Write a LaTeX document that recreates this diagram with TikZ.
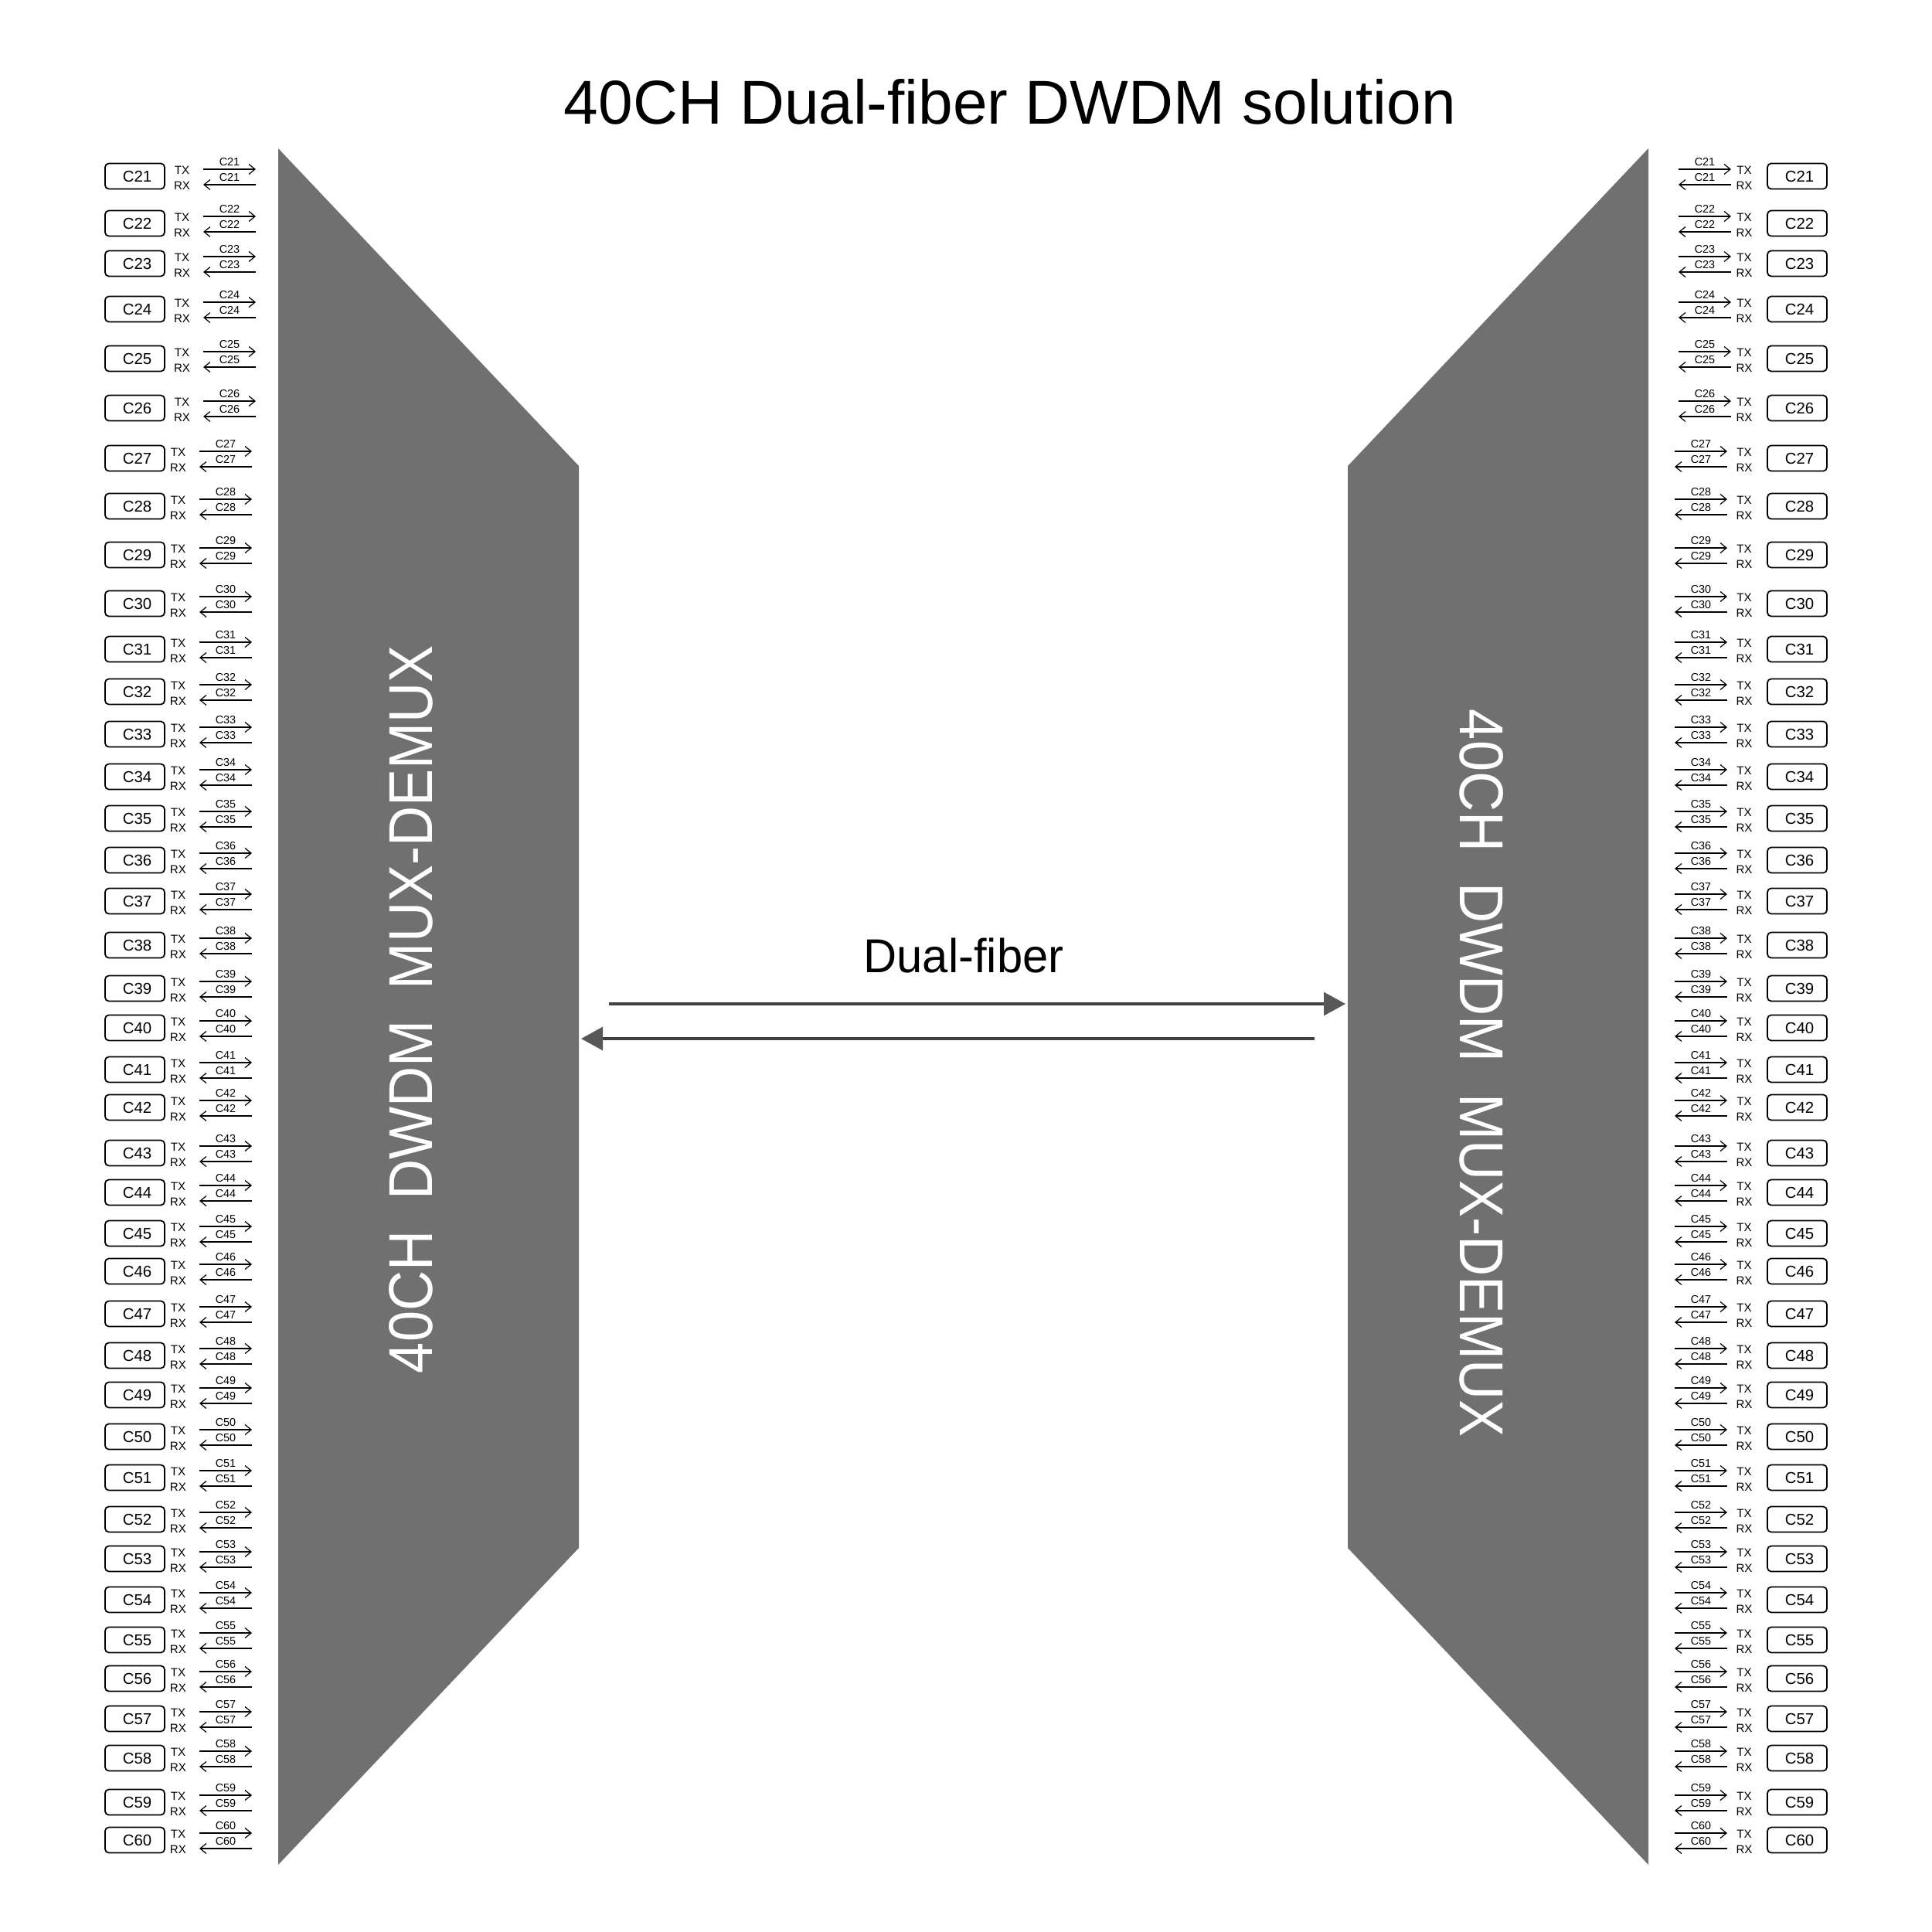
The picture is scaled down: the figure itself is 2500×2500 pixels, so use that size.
\documentclass[tikz,border=0pt]{standalone}
\usepackage{fontspec}
\setmainfont{Liberation Sans}
\usetikzlibrary{arrows.meta}
\definecolor{muxgray}{RGB}{112,112,112}
\definecolor{fibergray}{RGB}{64,64,64}
\definecolor{tipgray}{RGB}{88,88,88}

\begin{document}
\begin{tikzpicture}[
    x=0.01cm, y=-0.01cm,
    mux/.style={fill=muxgray, draw=none},
    muxlbl/.style={text=white, inner sep=0pt, font=\fontsize{22.8}{24}\selectfont},
    title/.style={inner sep=0pt, anchor=base, font=\fontsize{22.8}{24}\selectfont},
    chbox/.style={draw, rounded corners=1.4pt, line width=0.5pt, inner sep=0pt,
                  minimum width=0.77cm, minimum height=0.33cm, font=\fontsize{5.8}{6}\selectfont},
    trx/.style={inner sep=0pt, font=\fontsize{4.3}{5}\selectfont},
    chlbl/.style={inner sep=0pt, anchor=base, yshift=1.4pt, font=\fontsize{4.1}{4.5}\selectfont},
    charr/.style={-{Straight Barb[length=0.8mm, width=1.3mm]}, line width=0.35pt},
    fiber/.style={-{Triangle[length=2.8mm, width=3mm, color=tipgray]}, line width=0.9pt, draw=fibergray}
]
% page
\fill[white] (0,0) rectangle (2500,2500);

% title
\node[title] (ttl) at (1307,161) {40CH Dual-fiber DWDM solution};

% the two mux-demux units
\coordinate (lmA) at (360,192);
\coordinate (lmB) at (749,603);
\coordinate (lmC) at (749,2003);
\coordinate (lmD) at (360,2413);
\fill[mux] (lmA) -- (lmB) -- (lmC) -- (lmD) -- cycle;
\coordinate (rmA) at (2133,192);
\coordinate (rmB) at (1744,603);
\coordinate (rmC) at (1744,2003);
\coordinate (rmD) at (2133,2413);
\fill[mux] (rmA) -- (rmB) -- (rmC) -- (rmD) -- cycle;
\node[muxlbl, rotate=90] (lmux) at (532,1306) {\scalebox{0.9}[1]{40CH\ \ DWDM\ \ MUX-DEMUX}};
\node[muxlbl, rotate=-90] (rmux) at (1917,1389) {\scalebox{0.9}[1]{40CH\ \ DWDM\ \ MUX-DEMUX}};

% fiber pair between the units
\node[title, font=\fontsize{17.5}{19}\selectfont] (dual) at (1247,1258) {\scalebox{0.97}[1]{Dual-fiber}};
\coordinate (ftxA) at (788,1299);
\coordinate (ftxB) at (1741,1299);
\coordinate (frxA) at (1701,1344);
\coordinate (frxB) at (752,1344);
\draw[fiber] (ftxA) -- (ftxB);
\draw[fiber] (frxA) -- (frxB);

% channels C21..C60 on both sides
\foreach \n/\y in {21/228, 22/289, 23/341, 24/400, 25/464, 26/528, 27/593, 28/655,
                   29/718, 30/781, 31/840, 32/895, 33/950, 34/1005, 35/1059, 36/1113,
                   37/1166, 38/1223, 39/1279, 40/1330, 41/1384, 42/1433, 43/1492, 44/1543,
                   45/1596, 46/1645, 47/1700, 48/1754, 49/1805, 50/1859, 51/1912, 52/1966,
                   53/2017, 54/2070, 55/2122, 56/2172, 57/2224, 58/2275, 59/2332, 60/2381}{
  \pgfmathsetmacro{\dx}{\n<27 ? 0 : -5}
  % left terminal
  \node[chbox] (lb\n) at (174.5,\y) {\hspace{0.06cm}C\n};
  \node[trx] (ltx\n) at (235.5+\dx,\y-7.5) {TX};
  \node[trx] (lrx\n) at (235.5+\dx,\y+12) {RX};
  \coordinate (lta\n) at (263+\dx,\y-9);
  \coordinate (ltb\n) at (331+\dx,\y-9);
  \coordinate (lra\n) at (331+\dx,\y+11);
  \coordinate (lrb\n) at (263+\dx,\y+11);
  \draw[charr] (lta\n) -- (ltb\n) node[chlbl, midway] {C\n};
  \draw[charr] (lra\n) -- (lrb\n) node[chlbl, midway] {C\n};
  % right terminal
  \node[chbox] (rb\n) at (2325.5,\y) {\hspace{0.06cm}C\n};
  \node[trx] (rtx\n) at (2257,\y-7.5) {TX};
  \node[trx] (rrx\n) at (2257,\y+12) {RX};
  \coordinate (rta\n) at (2172+\dx,\y-9);
  \coordinate (rtb\n) at (2240+\dx,\y-9);
  \coordinate (rra\n) at (2240+\dx,\y+11);
  \coordinate (rrb\n) at (2172+\dx,\y+11);
  \draw[charr] (rta\n) -- (rtb\n) node[chlbl, midway] {C\n};
  \draw[charr] (rra\n) -- (rrb\n) node[chlbl, midway] {C\n};
}
\end{tikzpicture}
\end{document}
